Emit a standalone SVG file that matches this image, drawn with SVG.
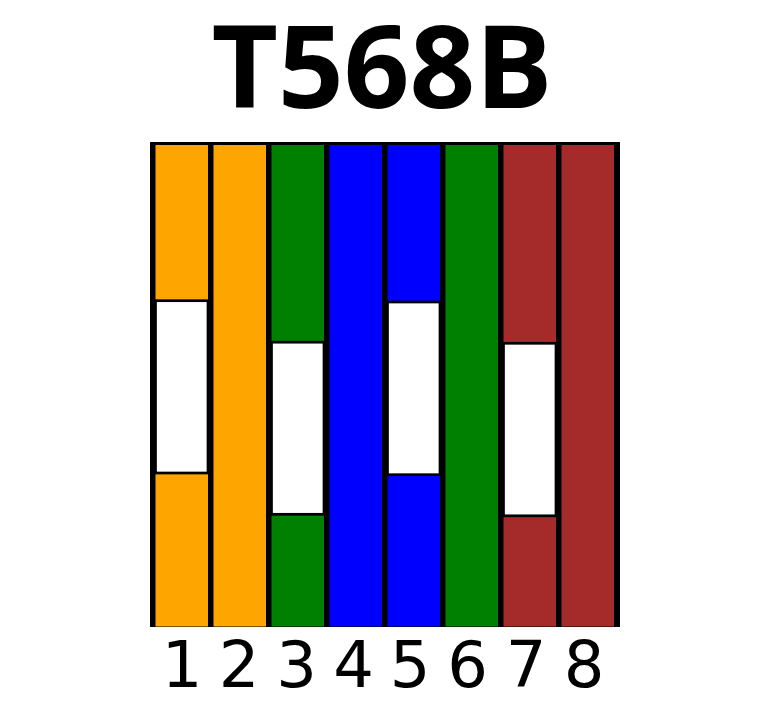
<svg xmlns="http://www.w3.org/2000/svg" width="768" height="705" viewBox="0 0 768 705">
<style>
.o{fill:#FFA500}.g{fill:#008000}.b{fill:#0000FF}.r{fill:#A52A2A}
.w{fill:#FFFFFF;stroke:#000000;stroke-width:2.7}
.n{font-family:"DejaVu Sans",sans-serif;font-size:64px;fill:#000;text-anchor:middle}
.t{font-family:"Open Sans",sans-serif;font-weight:bold;font-size:115px;fill:#000;text-anchor:middle}
</style>
<rect width="768" height="705" fill="#FFFFFF"/>
<text class="t" x="382" y="108">T568B</text>
<g id="connector">
<rect x="150" y="142" width="470" height="485" fill="#000000"/>
</g>
<g id="pin1"><rect class="o" x="155.5" y="145" width="52.5" height="481.5"/><rect class="w" x="155.5" y="300.7" width="52.5" height="172.3"/></g>
<g id="pin2"><rect class="o" x="213.5" y="145" width="52.5" height="481.5"/></g>
<g id="pin3"><rect class="g" x="271.5" y="145" width="52.5" height="481.5"/><rect class="w" x="271.5" y="342.2" width="52.5" height="172.1"/></g>
<g id="pin4"><rect class="b" x="329.5" y="145" width="52.5" height="481.5"/></g>
<g id="pin5"><rect class="b" x="387.5" y="145" width="52.5" height="481.5"/><rect class="w" x="387.5" y="302" width="52.5" height="172.7"/></g>
<g id="pin6"><rect class="g" x="445.5" y="145" width="52.5" height="481.5"/></g>
<g id="pin7"><rect class="r" x="503.5" y="145" width="52.5" height="481.5"/><rect class="w" x="503.5" y="343.3" width="52.5" height="172.5"/></g>
<g id="pin8"><rect class="r" x="561.5" y="145" width="52.5" height="481.5"/></g>
<g id="labels">
<text class="n" x="182" y="687">1</text>
<text class="n" x="239" y="687">2</text>
<text class="n" x="296.5" y="687">3</text>
<text class="n" x="353.5" y="687">4</text>
<text class="n" x="410" y="687">5</text>
<text class="n" x="467.5" y="687">6</text>
<text class="n" x="526" y="687">7</text>
<text class="n" x="584" y="687">8</text>
</g>
</svg>
